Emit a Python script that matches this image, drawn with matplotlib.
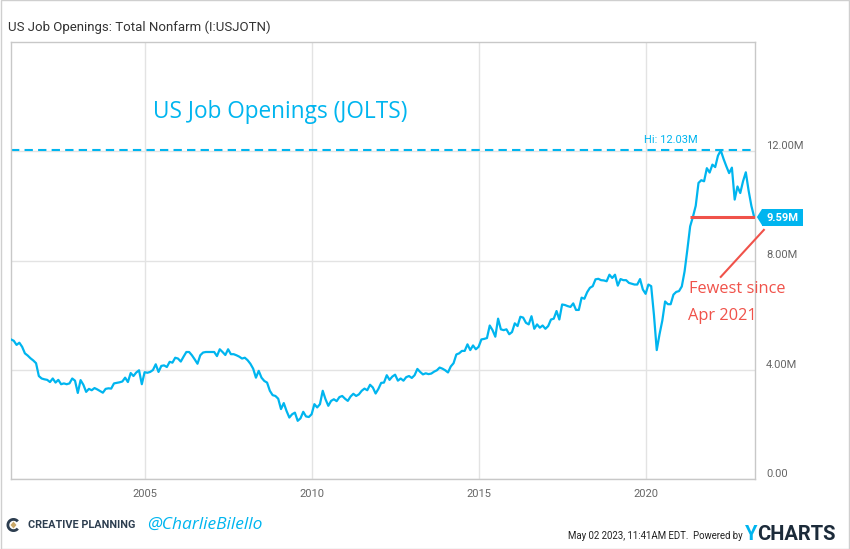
import matplotlib
matplotlib.use("Agg")
import matplotlib.pyplot as plt
import pandas as pd
from matplotlib.patches import Rectangle, Polygon, Wedge
from matplotlib.transforms import blended_transform_factory, ScaledTranslation

# US job openings, total nonfarm (millions), monthly from Dec 2000 to Mar 2023
start = "2000-12"
openings = [
    5.11,
    5.06, 4.91, 4.99, 4.84, 4.60, 4.52, 4.42, 4.34, 4.24, 3.77, 3.68, 3.65,  # 2001
    3.63, 3.55, 3.68, 3.53, 3.63, 3.47, 3.50, 3.47, 3.50, 3.68, 3.60, 3.15,  # 2002
    3.62, 3.45, 3.19, 3.30, 3.25, 3.33, 3.28, 3.22, 3.16, 3.30, 3.32, 3.31,  # 2003
    3.50, 3.52, 3.54, 3.57, 3.71, 3.55, 3.88, 3.77, 3.90, 3.98, 3.47, 3.91,  # 2004
    3.89, 3.92, 3.99, 4.20, 3.92, 4.14, 4.16, 4.10, 4.29, 4.26, 4.44, 4.41,  # 2005
    4.30, 4.48, 4.65, 4.65, 4.53, 4.38, 4.22, 4.53, 4.63, 4.65, 4.65, 4.65,  # 2006
    4.65, 4.50, 4.75, 4.65, 4.54, 4.75, 4.57, 4.57, 4.53, 4.48, 4.41, 4.44,  # 2007
    4.35, 4.22, 4.04, 3.71, 3.96, 3.71, 3.59, 3.53, 3.23, 3.07, 3.04, 2.94,  # 2008
    2.56, 2.78, 2.49, 2.25, 2.37, 2.43, 2.13, 2.22, 2.46, 2.29, 2.27, 2.37,  # 2009
    2.74, 2.62, 2.74, 3.23, 2.92, 2.68, 2.86, 2.92, 2.85, 3.00, 3.04, 2.94,  # 2010
    2.86, 3.02, 3.12, 3.04, 3.10, 3.23, 3.31, 3.25, 3.45, 3.35, 3.13, 3.30,  # 2011
    3.52, 3.53, 3.80, 3.63, 3.75, 3.82, 3.60, 3.68, 3.60, 3.73, 3.77, 3.70,  # 2012
    3.80, 4.03, 3.92, 3.83, 3.87, 3.84, 3.86, 3.93, 3.98, 4.08, 4.04, 3.98,  # 2013
    3.90, 4.12, 4.24, 4.56, 4.60, 4.69, 4.69, 4.93, 4.72, 4.89, 4.75, 4.84,  # 2014
    5.11, 5.13, 5.16, 5.62, 5.45, 5.21, 5.87, 5.48, 5.45, 5.48, 5.30, 5.38,  # 2015
    5.70, 5.60, 5.94, 5.91, 5.72, 5.66, 5.96, 5.50, 5.66, 5.54, 5.62, 5.50,  # 2016
    5.60, 5.84, 5.87, 6.15, 5.84, 6.39, 6.37, 6.33, 6.30, 6.43, 6.19, 6.19,  # 2017
    6.64, 6.60, 6.84, 7.00, 7.06, 7.31, 7.33, 7.28, 7.27, 7.24, 7.48, 7.36,  # 2018
    7.48, 7.08, 7.32, 7.28, 7.28, 7.18, 7.15, 7.12, 7.12, 7.32, 6.94, 6.78,  # 2019
    7.12, 7.06, 6.00, 4.72, 5.30, 5.80, 6.50, 6.40, 6.40, 6.75, 6.85, 6.88,  # 2020
    7.05, 7.60, 8.40, 9.25, 9.60, 10.00, 10.84, 10.94, 10.90, 11.38, 11.22, 11.51,  # 2021
    11.42, 11.84, 12.03, 11.72, 11.45, 11.20, 11.40, 10.23, 10.71, 10.47, 10.90, 11.23,  # 2022
    10.56, 10.00, 9.59,  # 2023
]
year_ticks = [2005, 2010, 2015, 2020]
y_ticks = [0, 4, 8, 12]
y_labels = ["0.00", "4.00M", "8.00M", "12.00M"]
high = 12.03
latest = 9.59
since_month = "2021-04"

CYAN = "#00b5ef"
RED = "#f0524a"
GRID = "#e3e3e3"
SPINE = "#c8c8c8"
LABEL = "#666666"
NAVY = "#2d3e50"

months = pd.period_range(start, periods=len(openings), freq="M")
x = months.year + months.month / 12.0  # plotted at month end
since = pd.Period(since_month, freq="M")
since_x = since.year + since.month / 12.0

fig = plt.figure(figsize=(8.5, 5.49), dpi=100)
ax = fig.add_axes([11 / 850, 1 - 479 / 549, 744 / 850, 437 / 549])

ax.plot(x, openings, color=CYAN, lw=1.6, solid_joinstyle="round", zorder=3)

ax.set_xlim(x[0], x[-1] + 0.025)
ax.set_ylim(0, 16)

ax.set_xticks(year_ticks)
ax.set_xticklabels([str(y) for y in year_ticks])
ax.set_yticks(y_ticks)
ax.set_yticklabels(y_labels)
ax.yaxis.tick_right()
ax.tick_params(axis="both", length=0, labelsize=8, labelcolor=LABEL)
ax.tick_params(axis="x", pad=7)
ax.tick_params(axis="y", pad=8)
for lab in ax.get_yticklabels():
    lab.set_fontfamily("Roboto")
    lab.set_transform(lab.get_transform() + ScaledTranslation(0, 6 / 100, fig.dpi_scale_trans))
for lab in ax.get_xticklabels():
    lab.set_fontfamily("Roboto")

ax.grid(True, color=GRID, lw=1)
ax.set_axisbelow(True)
for s in ax.spines.values():
    s.set_color(SPINE)
    s.set_linewidth(1)

# high water mark
hl = ax.axhline(high, color=CYAN, lw=1.5, zorder=2)
hl.set_dashes([4, 2.5])
ax.text(2021.55, high + 0.37, "Hi: %.2fM" % high, color=CYAN, fontsize=8,
        family="Roboto", ha="right", va="center")

# latest value vs Apr 2021
ax.plot([since_x, x[-1] + 0.025], [latest, latest], color=RED, lw=2.2, zorder=4,
        solid_capstyle="butt")

tr = blended_transform_factory(ax.transAxes, ax.transData)
ax.add_patch(Polygon([[1.0025, latest], [1.0095, latest + 0.3], [1.0095, latest - 0.3]],
                     closed=True, transform=tr, facecolor=CYAN, edgecolor="none",
                     clip_on=False, zorder=5))
ax.add_patch(Rectangle((1.009, latest - 0.31), 0.056, 0.62, transform=tr,
                       facecolor=CYAN, edgecolor="none", clip_on=False, zorder=5))
ax.text(1.037, latest - 0.02, "%.2fM" % latest, transform=tr, color="white",
        fontsize=8, fontweight="bold", family="Roboto", ha="center", va="center",
        zorder=6)

ax.plot([2022.25, 2023.54], [7.40, 9.12], color=RED, lw=1.5, clip_on=False, zorder=4)
ax.text(2021.29, 6.95, "Fewest since", color=RED, fontsize=11.8, family="Open Sans",
        ha="left", va="center")
ax.text(2021.26, 5.95, "Apr 2021", color=RED, fontsize=11.8, family="Open Sans",
        ha="left", va="center")

ax.text(2005.25, 13.22, "US Job Openings (JOLTS)", color=CYAN, fontsize=16.3,
        family="Open Sans", ha="left", va="baseline")

# header and footer
fig.text(8 / 850, 1 - 31 / 549, "US Job Openings: Total Nonfarm (I:USJOTN)",
         fontsize=9.5, family="Roboto", color="#333333", va="baseline")

# small logo mark: dark ring with a gold diamond
cx, cy = 0.135, (549 - 525) / 100
fig.patches.append(Wedge((cx, cy), 0.07, 40, 320, width=0.028,
                         transform=fig.dpi_scale_trans, facecolor=NAVY, edgecolor="none"))
fig.patches.append(Polygon([[cx - 0.03, cy], [cx, cy + 0.035], [cx + 0.03, cy], [cx, cy - 0.035]],
                           closed=True, transform=fig.dpi_scale_trans,
                           facecolor="#c9a86a", edgecolor="none"))
fig.text(28 / 850, 1 - 525 / 549, "CREATIVE PLANNING", fontsize=7.8,
         fontweight="bold", color=NAVY, va="center", ha="left", family="Roboto")
fig.text(147 / 850, 1 - 525 / 549, "@CharlieBilello", fontsize=12.5, color=CYAN,
         family="Open Sans", style="italic", va="center", ha="left")
fig.text(743 / 850, 1 - 536 / 549, "May 02 2023, 11:41AM EDT.  Powered by",
         fontsize=6.9, color="#222222", family="Roboto", va="center", ha="right")
fig.text(745 / 850, 1 - 535 / 549, "Y", fontsize=14.5, fontweight="bold",
         color=CYAN, family="Roboto", va="center", ha="left")
fig.text(757 / 850, 1 - 535 / 549, "CHARTS", fontsize=14.5, fontweight="bold",
         color="#1c2b3a", family="Roboto", va="center", ha="left")

fig.patches.append(Rectangle((0.0006, 0.0009), 0.9988, 0.9982, transform=fig.transFigure,
                             fill=False, edgecolor="#cfcfcf", lw=1))

fig.savefig("out.png", dpi=100)
